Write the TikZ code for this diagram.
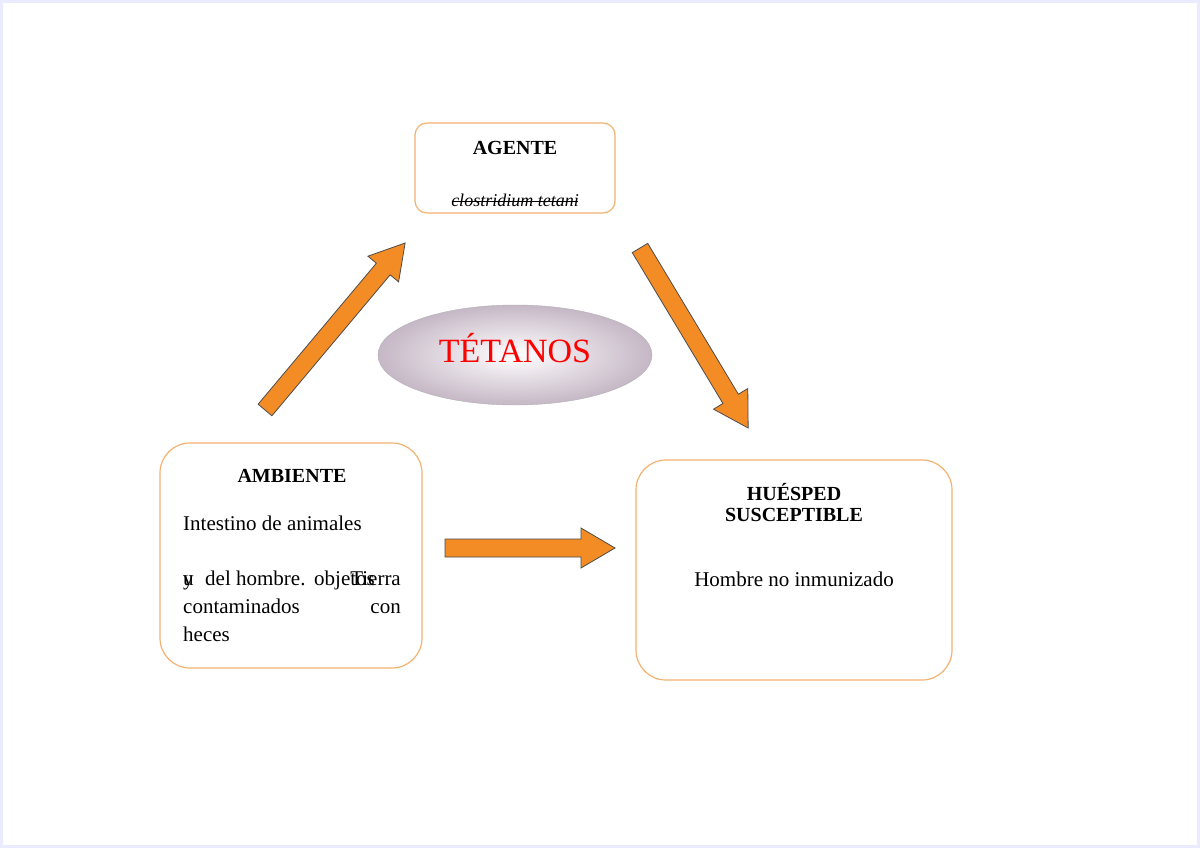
\documentclass[tikz,border=0pt]{standalone}
\usepackage{fontspec}
\setmainfont{Liberation Serif}
\usetikzlibrary{shapes.geometric}
\begin{document}
\begin{tikzpicture}[x=1pt,y=-1pt,
  box/.style={draw=orange!70!brown!60, line width=1.2pt, fill=white},
  blk/.style={draw=black!70, line width=0.8pt, fill=orange!80!brown!90}]
\fill[white] (0,0) rectangle (1200,848);
\draw[blue!8, line width=3pt] (1.5,1.5) rectangle (1198.5,846.5);
\draw[box, rounded corners=12pt] (415,123) rectangle (615,213);
\node (ag) at (515,148) {\bfseries\fontsize{20}{22}\selectfont AGENTE};
\node (agt) at (515,200) {\itshape\fontsize{18}{20}\selectfont clostridium tetani};
\draw[line width=0.7pt] ([xshift=4pt,yshift=-1pt]agt.west) -- ([xshift=-4pt,yshift=-1pt]agt.east);
\draw[box, rounded corners=30pt] (160,443) rectangle (422,668);
\node (am) at (292,476) {\bfseries\fontsize{20}{22}\selectfont AMBIENTE};
\begin{scope}[every node/.style={anchor=base west, inner sep=0pt, font=\fontsize{21}{24}\selectfont}]
\node (l1) at (183,530) {Intestino de animales};
\node (l2a) at (183,585) {y};
\node (l2b) at (183,585) {u};
\node (l2c) at (205,585) {del hombre.};
\node (l2d) at (314,585) {objetos};
\node[anchor=base east] (l2e) at (401,585) {Tierra};
\node (l3) at (183,613) {contaminados};
\node[anchor=base east] (l3b) at (401,613) {con};
\node (l4) at (183,641) {heces};
\end{scope}
\draw[box, rounded corners=30pt] (636,460) rectangle (952,680);
\node (hu) at (794,506) {\bfseries\fontsize{20}{22}\selectfont\begin{tabular}{c}HUÉSPED\\[-1pt]SUSCEPTIBLE\end{tabular}};
\node (hn) at (794,579) {\fontsize{21}{24}\selectfont Hombre no inmunizado};
\node[ellipse, draw=gray!60, minimum width=274pt, minimum height=100pt, inner color=white, outer color=violet!25!gray!45] (el) at (515,355) {};
\node[text=red] (tt) at (515,348) {\fontsize{34}{38}\selectfont TÉTANOS};
\foreach \x/\y/\r/\L in {265/410/50/218, 640/248/-59/210, 445/548/0/170}{
  \begin{scope}[shift={(\x,\y)}, rotate=\r]
  \draw[blk] (0,-9) -- (\L-34,-9) -- (\L-34,-20) -- (\L,0) -- (\L-34,20) -- (\L-34,9) -- (0,9) -- cycle;
  \end{scope}}
\end{tikzpicture}
\end{document}
